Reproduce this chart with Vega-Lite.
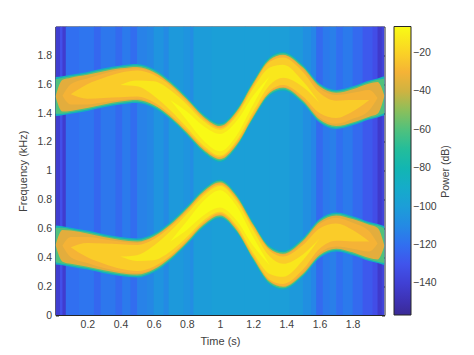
{"$schema":"https://vega.github.io/schema/vega-lite/v6.json","width":329,"height":288.5,"padding":{"left":55.5,"top":26.5,"right":89.5,"bottom":40},"autosize":"none","background":"white",
"config":{"view":{"stroke":"#262626","strokeWidth":1},"font":"Liberation Sans","axis":{"grid":false,"domainColor":"#262626","tickColor":"#262626","tickSize":-3,"labelColor":"#404040","titleColor":"#404040","labelFontSize":10.5,"titleFontSize":11,"titleFontWeight":"normal","labelPadding":7}},
"resolve":{"axis":{"x":"independent","y":"independent"}},
"datasets":{"bg":[
{"t0":0.008,"t1":0.04,"p":-141},{"t0":0.035,"t1":0.055,"p":-132},{"t0":0.05,"t1":0.075,"p":-142},{"t0":0.07,"t1":0.155,"p":-120},{"t0":0.15,"t1":0.245,"p":-118},{"t0":0.24,"t1":0.285,"p":-123},{"t0":0.28,"t1":0.375,"p":-117},{"t0":0.37,"t1":0.415,"p":-122},{"t0":0.41,"t1":0.465,"p":-116},{"t0":0.46,"t1":0.505,"p":-121},{"t0":0.5,"t1":0.565,"p":-113},{"t0":0.56,"t1":0.605,"p":-111},{"t0":0.6,"t1":0.665,"p":-106},{"t0":0.66,"t1":0.695,"p":-110},{"t0":0.69,"t1":0.785,"p":-103},{"t0":0.78,"t1":0.825,"p":-106},{"t0":0.82,"t1":0.845,"p":-109},{"t0":0.84,"t1":0.955,"p":-101},{"t0":0.95,"t1":1.155,"p":-99},{"t0":1.15,"t1":1.305,"p":-99},{"t0":1.3,"t1":1.425,"p":-100},{"t0":1.42,"t1":1.505,"p":-103},{"t0":1.5,"t1":1.555,"p":-108},{"t0":1.55,"t1":1.585,"p":-112},{"t0":1.58,"t1":1.625,"p":-122},{"t0":1.62,"t1":1.665,"p":-116},{"t0":1.66,"t1":1.705,"p":-114},{"t0":1.7,"t1":1.745,"p":-120},{"t0":1.74,"t1":1.805,"p":-116},{"t0":1.8,"t1":1.865,"p":-122},{"t0":1.86,"t1":1.925,"p":-128},{"t0":1.92,"t1":1.955,"p":-133},{"t0":1.95,"t1":1.98,"p":-143},{"t0":1.975,"t1":1.992,"p":-138}],
"ridge":[
{"t":0.008,"r":"u","a0":1.38,"a1":1.65,"b0":1.395,"b1":1.635,"c0":1.515,"c1":1.515},
{"t":0.05,"r":"u","a0":1.385,"a1":1.655,"b0":1.395,"b1":1.645,"c0":1.41,"c1":1.63,"d0":1.52,"d1":1.52},
{"t":0.1,"r":"u","a0":1.395,"a1":1.665,"b0":1.405,"b1":1.655,"c0":1.415,"c1":1.645,"d0":1.46,"d1":1.6,"e0":1.53,"e1":1.53},
{"t":0.2,"r":"u","a0":1.415,"a1":1.685,"b0":1.425,"b1":1.675,"c0":1.435,"c1":1.665,"d0":1.46,"d1":1.64,"e0":1.5,"e1":1.6},
{"t":0.3,"r":"u","a0":1.44,"a1":1.71,"b0":1.45,"b1":1.7,"c0":1.46,"c1":1.69,"d0":1.475,"d1":1.675,"e0":1.505,"e1":1.645},
{"t":0.4,"r":"u","a0":1.46,"a1":1.73,"b0":1.47,"b1":1.72,"c0":1.48,"c1":1.71,"d0":1.49,"d1":1.7,"e0":1.51,"e1":1.68,"f0":1.595,"f1":1.595},
{"t":0.5,"r":"u","a0":1.47,"a1":1.74,"b0":1.48,"b1":1.73,"c0":1.49,"c1":1.72,"d0":1.5,"d1":1.71,"e0":1.515,"e1":1.695,"f0":1.585,"f1":1.625},
{"t":0.6,"r":"u","a0":1.435,"a1":1.705,"b0":1.445,"b1":1.695,"c0":1.455,"c1":1.685,"d0":1.46,"d1":1.68,"e0":1.475,"e1":1.665,"f0":1.52,"f1":1.62},
{"t":0.7,"r":"u","a0":1.355,"a1":1.625,"b0":1.365,"b1":1.615,"c0":1.375,"c1":1.605,"d0":1.38,"d1":1.6,"e0":1.39,"e1":1.59,"f0":1.42,"f1":1.56,"g0":1.49,"g1":1.49},
{"t":0.8,"r":"u","a0":1.245,"a1":1.515,"b0":1.255,"b1":1.505,"c0":1.265,"c1":1.495,"d0":1.27,"d1":1.49,"e0":1.28,"e1":1.48,"f0":1.3,"f1":1.46,"g0":1.35,"g1":1.41},
{"t":0.9,"r":"u","a0":1.125,"a1":1.395,"b0":1.135,"b1":1.385,"c0":1.145,"c1":1.375,"d0":1.15,"d1":1.37,"e0":1.16,"e1":1.36,"f0":1.175,"f1":1.345,"g0":1.21,"g1":1.31},
{"t":1.0,"r":"u","a0":1.06,"a1":1.33,"b0":1.07,"b1":1.32,"c0":1.08,"c1":1.31,"d0":1.085,"d1":1.305,"e0":1.095,"e1":1.295,"f0":1.105,"f1":1.285,"g0":1.135,"g1":1.255},
{"t":1.1,"r":"u","a0":1.16,"a1":1.43,"b0":1.17,"b1":1.42,"c0":1.18,"c1":1.41,"d0":1.185,"d1":1.405,"e0":1.195,"e1":1.395,"f0":1.21,"f1":1.38,"g0":1.245,"g1":1.345},
{"t":1.2,"r":"u","a0":1.355,"a1":1.625,"b0":1.365,"b1":1.615,"c0":1.375,"c1":1.605,"d0":1.38,"d1":1.6,"e0":1.39,"e1":1.59,"f0":1.41,"f1":1.57,"g0":1.46,"g1":1.52},
{"t":1.3,"r":"u","a0":1.52,"a1":1.79,"b0":1.53,"b1":1.78,"c0":1.54,"c1":1.77,"d0":1.545,"d1":1.765,"e0":1.555,"e1":1.755,"f0":1.595,"f1":1.715,"g0":1.655,"g1":1.655},
{"t":1.38,"r":"u","a0":1.555,"a1":1.825,"b0":1.565,"b1":1.815,"c0":1.575,"c1":1.805,"d0":1.58,"d1":1.8,"e0":1.595,"e1":1.785,"f0":1.645,"f1":1.735},
{"t":1.5,"r":"u","a0":1.465,"a1":1.735,"b0":1.475,"b1":1.725,"c0":1.485,"c1":1.715,"d0":1.495,"d1":1.705,"e0":1.515,"e1":1.685,"f0":1.58,"f1":1.62},
{"t":1.6,"r":"u","a0":1.335,"a1":1.605,"b0":1.345,"b1":1.595,"c0":1.355,"c1":1.585,"d0":1.37,"d1":1.57,"e0":1.4,"e1":1.54,"f0":1.47,"f1":1.47},
{"t":1.7,"r":"u","a0":1.29,"a1":1.56,"b0":1.3,"b1":1.55,"c0":1.31,"c1":1.54,"d0":1.325,"d1":1.525,"e0":1.365,"e1":1.485},
{"t":1.8,"r":"u","a0":1.315,"a1":1.585,"b0":1.325,"b1":1.575,"c0":1.335,"c1":1.565,"d0":1.36,"d1":1.54,"e0":1.41,"e1":1.49},
{"t":1.9,"r":"u","a0":1.355,"a1":1.625,"b0":1.365,"b1":1.615,"c0":1.375,"c1":1.605,"d0":1.42,"d1":1.56,"e0":1.49,"e1":1.49},
{"t":1.95,"r":"u","a0":1.37,"a1":1.64,"b0":1.38,"b1":1.63,"c0":1.395,"c1":1.615,"d0":1.505,"d1":1.505},
{"t":1.992,"r":"u","a0":1.385,"a1":1.655,"b0":1.4,"b1":1.64,"c0":1.52,"c1":1.52},
{"t":0.008,"r":"l","a0":0.35,"a1":0.62,"b0":0.365,"b1":0.605,"c0":0.485,"c1":0.485},
{"t":0.05,"r":"l","a0":0.345,"a1":0.615,"b0":0.355,"b1":0.605,"c0":0.37,"c1":0.59,"d0":0.48,"d1":0.48},
{"t":0.1,"r":"l","a0":0.335,"a1":0.605,"b0":0.345,"b1":0.595,"c0":0.355,"c1":0.585,"d0":0.4,"d1":0.54,"e0":0.47,"e1":0.47},
{"t":0.2,"r":"l","a0":0.315,"a1":0.585,"b0":0.325,"b1":0.575,"c0":0.335,"c1":0.565,"d0":0.36,"d1":0.54,"e0":0.4,"e1":0.5},
{"t":0.3,"r":"l","a0":0.29,"a1":0.56,"b0":0.3,"b1":0.55,"c0":0.31,"c1":0.54,"d0":0.325,"d1":0.525,"e0":0.355,"e1":0.495},
{"t":0.4,"r":"l","a0":0.27,"a1":0.54,"b0":0.28,"b1":0.53,"c0":0.29,"c1":0.52,"d0":0.3,"d1":0.51,"e0":0.32,"e1":0.49,"f0":0.405,"f1":0.405},
{"t":0.5,"r":"l","a0":0.26,"a1":0.53,"b0":0.27,"b1":0.52,"c0":0.28,"c1":0.51,"d0":0.29,"d1":0.5,"e0":0.305,"e1":0.485,"f0":0.375,"f1":0.415},
{"t":0.6,"r":"l","a0":0.295,"a1":0.565,"b0":0.305,"b1":0.555,"c0":0.315,"c1":0.545,"d0":0.32,"d1":0.54,"e0":0.335,"e1":0.525,"f0":0.38,"f1":0.48},
{"t":0.7,"r":"l","a0":0.375,"a1":0.645,"b0":0.385,"b1":0.635,"c0":0.395,"c1":0.625,"d0":0.4,"d1":0.62,"e0":0.41,"e1":0.61,"f0":0.44,"f1":0.58,"g0":0.51,"g1":0.51},
{"t":0.8,"r":"l","a0":0.485,"a1":0.755,"b0":0.495,"b1":0.745,"c0":0.505,"c1":0.735,"d0":0.51,"d1":0.73,"e0":0.52,"e1":0.72,"f0":0.54,"f1":0.7,"g0":0.59,"g1":0.65},
{"t":0.9,"r":"l","a0":0.605,"a1":0.875,"b0":0.615,"b1":0.865,"c0":0.625,"c1":0.855,"d0":0.63,"d1":0.85,"e0":0.64,"e1":0.84,"f0":0.655,"f1":0.825,"g0":0.69,"g1":0.79},
{"t":1.0,"r":"l","a0":0.67,"a1":0.94,"b0":0.68,"b1":0.93,"c0":0.69,"c1":0.92,"d0":0.695,"d1":0.915,"e0":0.705,"e1":0.905,"f0":0.715,"f1":0.895,"g0":0.745,"g1":0.865},
{"t":1.1,"r":"l","a0":0.57,"a1":0.84,"b0":0.58,"b1":0.83,"c0":0.59,"c1":0.82,"d0":0.595,"d1":0.815,"e0":0.605,"e1":0.805,"f0":0.62,"f1":0.79,"g0":0.655,"g1":0.755},
{"t":1.2,"r":"l","a0":0.375,"a1":0.645,"b0":0.385,"b1":0.635,"c0":0.395,"c1":0.625,"d0":0.4,"d1":0.62,"e0":0.41,"e1":0.61,"f0":0.43,"f1":0.59,"g0":0.48,"g1":0.54},
{"t":1.3,"r":"l","a0":0.21,"a1":0.48,"b0":0.22,"b1":0.47,"c0":0.23,"c1":0.46,"d0":0.235,"d1":0.455,"e0":0.245,"e1":0.445,"f0":0.285,"f1":0.405,"g0":0.345,"g1":0.345},
{"t":1.38,"r":"l","a0":0.175,"a1":0.445,"b0":0.185,"b1":0.435,"c0":0.195,"c1":0.425,"d0":0.2,"d1":0.42,"e0":0.215,"e1":0.405,"f0":0.265,"f1":0.355},
{"t":1.5,"r":"l","a0":0.265,"a1":0.535,"b0":0.275,"b1":0.525,"c0":0.285,"c1":0.515,"d0":0.295,"d1":0.505,"e0":0.315,"e1":0.485,"f0":0.38,"f1":0.42},
{"t":1.6,"r":"l","a0":0.395,"a1":0.665,"b0":0.405,"b1":0.655,"c0":0.415,"c1":0.645,"d0":0.43,"d1":0.63,"e0":0.46,"e1":0.6,"f0":0.53,"f1":0.53},
{"t":1.7,"r":"l","a0":0.44,"a1":0.71,"b0":0.45,"b1":0.7,"c0":0.46,"c1":0.69,"d0":0.475,"d1":0.675,"e0":0.515,"e1":0.635},
{"t":1.8,"r":"l","a0":0.415,"a1":0.685,"b0":0.425,"b1":0.675,"c0":0.435,"c1":0.665,"d0":0.46,"d1":0.64,"e0":0.51,"e1":0.59},
{"t":1.9,"r":"l","a0":0.375,"a1":0.645,"b0":0.385,"b1":0.635,"c0":0.395,"c1":0.625,"d0":0.44,"d1":0.58,"e0":0.51,"e1":0.51},
{"t":1.95,"r":"l","a0":0.36,"a1":0.63,"b0":0.37,"b1":0.62,"c0":0.385,"c1":0.605,"d0":0.495,"d1":0.495},
{"t":1.992,"r":"l","a0":0.345,"a1":0.615,"b0":0.36,"b1":0.6,"c0":0.48,"c1":0.48}
]},
"layer":[
{"data":{"name":"bg"},"mark":{"type":"rect","strokeWidth":0,"clip":true},"encoding":{
"x":{"field":"t0","type":"quantitative","title":"Time (s)","scale":{"domain":[0.008,1.992],"nice":false,"zero":false},"axis":{"values":[0.2,0.4,0.6,0.8,1,1.2,1.4,1.6,1.8],"labelExpr":"format(datum.value,'.1~f')","titlePadding":6}},
"x2":{"field":"t1"},
"y":{"datum":0,"type":"quantitative","scale":{"domain":[0,2],"nice":false},"axis":{"title":"Frequency (kHz)","values":[0,0.2,0.4,0.6,0.8,1,1.2,1.4,1.6,1.8],"labelExpr":"format(datum.value,'.1~f')","titlePadding":8}},
"y2":{"datum":2},
"color":{"field":"p","type":"quantitative","scale":{"domain":[-156.5,-144.5,-131,-119,-107,-93,-81.3,-69.3,-57.3,-46.8,-39.3,-33.3,-25.7,-16.7,-6.2],"nice":false,"zero":false,"type":"linear","interpolate":"rgb","range":["#3a2a95","#3f37c8","#4251ec","#2f72f0","#2092e0","#17a9d0","#10b5b5","#25be98","#5cc275","#a0bd50","#d3b240","#f0a93a","#fbc030","#f9dc20","#f9fb15"]},
"legend":{"title":"Power (dB)","values":[-140,-120,-100,-80,-60,-40,-20],"orient":"none","legendX":338.5,"legendY":0,"gradientLength":288.5,"gradientThickness":17,"gradientStrokeColor":"#262626","gradientStrokeWidth":1,"labelFontSize":10.5,"labelColor":"#404040","titleColor":"#404040","titleFontSize":10.5,"titleFontWeight":"normal","titleOrient":"right","encoding":{"title":{"angle":{"value":270},"dy":{"value":9}}}}}}},
{"data":{"name":"ridge"},"mark":{"type":"area","interpolate":"monotone","orient":"vertical","clip":true},"encoding":{"x":{"field":"t","type":"quantitative","title":null,"axis":{"orient":"top","values":[0.2,0.4,0.6,0.8,1,1.2,1.4,1.6,1.8],"labels":false,"domain":false}},"y":{"field":"a0","type":"quantitative","title":null,"axis":{"orient":"right","values":[0,0.2,0.4,0.6,0.8,1,1.2,1.4,1.6,1.8],"labels":false,"domain":false}},"y2":{"field":"a1"},"detail":{"field":"r"},"color":{"datum":-85,"type":"quantitative"}}},
{"data":{"name":"ridge"},"mark":{"type":"area","interpolate":"monotone","orient":"vertical","clip":true},"encoding":{"x":{"field":"t","type":"quantitative","axis":null},"y":{"field":"b0","type":"quantitative","axis":null},"y2":{"field":"b1"},"detail":{"field":"r"},"color":{"datum":-60,"type":"quantitative"}}},
{"data":{"name":"ridge"},"mark":{"type":"area","interpolate":"monotone","orient":"vertical","clip":true},"encoding":{"x":{"field":"t","type":"quantitative","axis":null},"y":{"field":"c0","type":"quantitative","axis":null},"y2":{"field":"c1"},"detail":{"field":"r"},"color":{"datum":-36,"type":"quantitative"}}},
{"data":{"name":"ridge"},"mark":{"type":"area","interpolate":"monotone","orient":"vertical","clip":true},"encoding":{"x":{"field":"t","type":"quantitative","axis":null},"y":{"field":"d0","type":"quantitative","axis":null},"y2":{"field":"d1"},"detail":{"field":"r"},"color":{"datum":-30,"type":"quantitative"}}},
{"data":{"name":"ridge"},"mark":{"type":"area","interpolate":"monotone","orient":"vertical","clip":true},"encoding":{"x":{"field":"t","type":"quantitative","axis":null},"y":{"field":"e0","type":"quantitative","axis":null},"y2":{"field":"e1"},"detail":{"field":"r"},"color":{"datum":-22,"type":"quantitative"}}},
{"data":{"name":"ridge"},"mark":{"type":"area","interpolate":"monotone","orient":"vertical","clip":true},"encoding":{"x":{"field":"t","type":"quantitative","axis":null},"y":{"field":"f0","type":"quantitative","axis":null},"y2":{"field":"f1"},"detail":{"field":"r"},"color":{"datum":-13,"type":"quantitative"}}},
{"data":{"name":"ridge"},"mark":{"type":"area","interpolate":"monotone","orient":"vertical","clip":true},"encoding":{"x":{"field":"t","type":"quantitative","axis":null},"y":{"field":"g0","type":"quantitative","axis":null},"y2":{"field":"g1"},"detail":{"field":"r"},"color":{"datum":-7,"type":"quantitative"}}}
]}
